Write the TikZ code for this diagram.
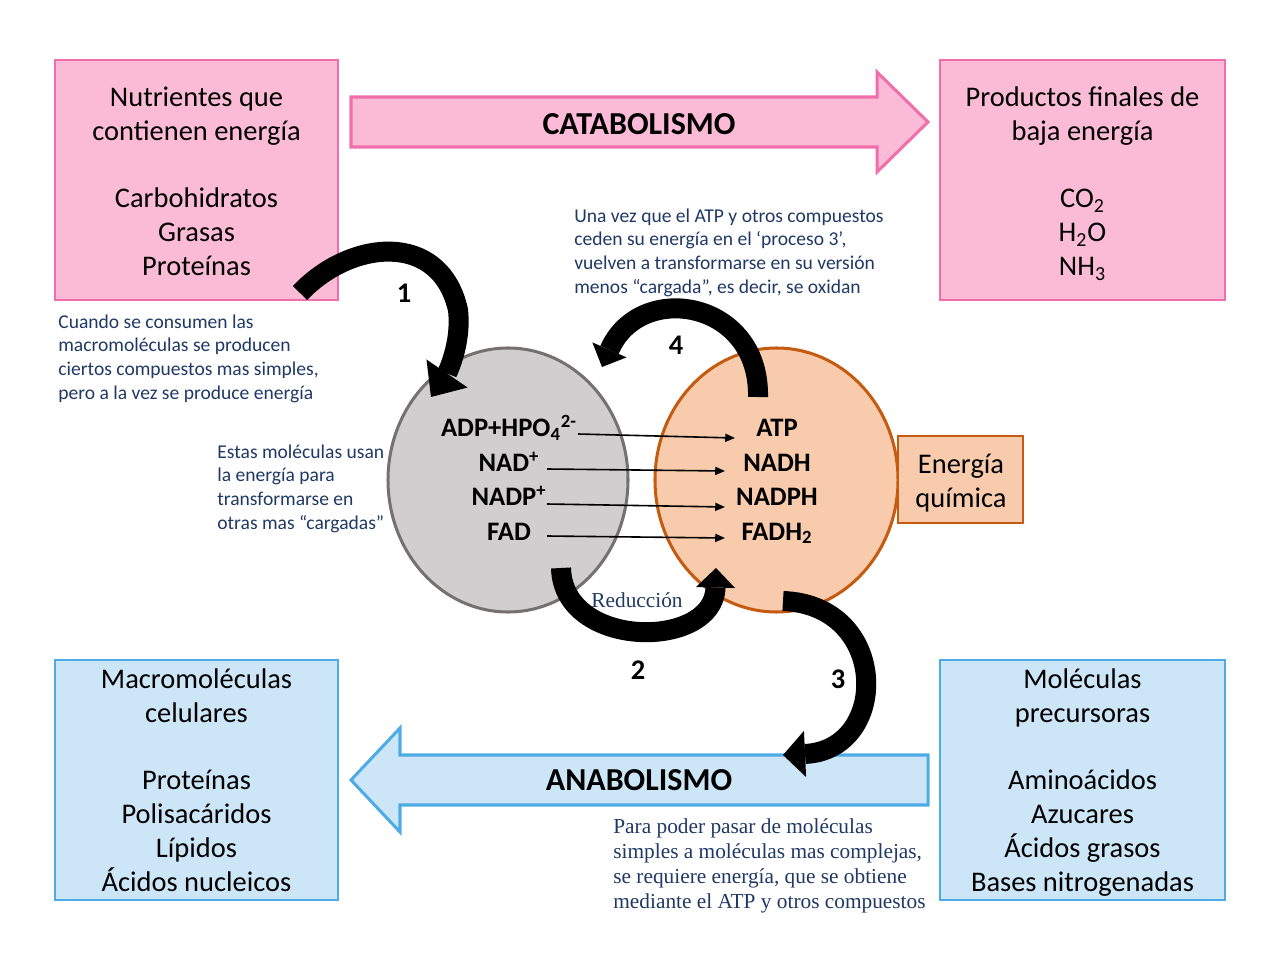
\documentclass[tikz,border=0pt]{standalone}
\usepackage{fontspec}
\setmainfont{Carlito}
\newfontfamily\serifnote{Liberation Serif}
\usetikzlibrary{arrows.meta,shapes.geometric}
\definecolor{pinkfill}{RGB}{251,187,214}
\definecolor{pinkline}{RGB}{240,110,170}
\definecolor{bluefill}{RGB}{204,230,248}
\definecolor{blueline}{RGB}{78,171,230}
\definecolor{grayfill}{RGB}{208,206,206}
\definecolor{grayline}{RGB}{118,113,113}
\definecolor{orfill}{RGB}{248,203,173}
\definecolor{orline}{RGB}{197,90,17}
\definecolor{navy}{RGB}{31,56,100}
\begin{document}
\begin{tikzpicture}[x=0.5625pt,y=-0.5625pt,
  pinkbox/.style={fill=pinkfill,draw=pinkline,line width=1.1pt,inner sep=0},
  bluebox/.style={fill=bluefill,draw=blueline,line width=1.1pt,inner sep=0},
  bigpink/.style={fill=pinkfill,draw=pinkline,line width=1.7pt},
  bigblue/.style={fill=bluefill,draw=blueline,line width=1.7pt},
  boxtext/.style={font=\fontsize{16}{19.1}\selectfont,align=center,inner sep=0,anchor=north},
  note/.style={font=\fontsize{11}{13.4}\selectfont,text=navy,align=left,inner sep=0,anchor=north west},
  serifnotestyle/.style={font=\serifnote\fontsize{12}{14.2}\selectfont,text=navy,align=left,inner sep=0,anchor=north west},
  mol/.style={font=\bfseries\fontsize{15}{18}\selectfont,inner sep=0,anchor=base},
  num/.style={font=\bfseries\fontsize{16}{19}\selectfont,inner sep=0},
  bigtitle/.style={font=\bfseries\fontsize{18}{21.6}\selectfont,inner sep=0},
  thinarrow/.style={line width=0.9pt,-{Triangle[length=5.5pt,width=4.5pt]}},
  curved/.style 2 args={line width=11.25pt,-{Triangle[length=#1,width=#2,line width=0pt]}},
]
\useasboundingbox (0,0) rectangle (1280,960);

% boxes
\node[pinkbox,minimum width=159.2pt,minimum height=135pt] (nutr) at (196.5,180) {};
\node[pinkbox,minimum width=160.3pt,minimum height=135pt] (prod) at (1082.5,180) {};
\node[bluebox,minimum width=159.2pt,minimum height=135pt] (macro) at (196.5,780) {};
\node[bluebox,minimum width=160.3pt,minimum height=135pt] (prec) at (1082.5,780) {};

% big arrows
\draw[bigpink] (351,97) -- (877,97) -- (877,72) -- (928,122) -- (877,172) -- (877,147) -- (351,147) -- cycle;
\draw[bigblue] (928,755) -- (400,755) -- (400,728) -- (351,780) -- (400,832) -- (400,805) -- (928,805) -- cycle;
\node[bigtitle] (cata) at (639,124) {CATABOLISMO};
\node[bigtitle] (ana) at (639,780) {ANABOLISMO};

% circles
\node[ellipse,fill=grayfill,draw=grayline,line width=1.7pt,minimum width=135pt,minimum height=148.5pt,inner sep=0] (grayc) at (508,480) {};
\node[ellipse,fill=orfill,draw=orline,line width=1.7pt,minimum width=136.7pt,minimum height=148.5pt,inner sep=0] (orc) at (776.5,480) {};
\node[fill=orfill,draw=orline,line width=1.1pt,minimum width=70.3pt,minimum height=48.9pt,inner sep=0] (energ) at (960.5,479.5) {};

% box texts
\node[boxtext] (nutrtxt) at (196.5,82) {\strut Nutrientes que\\contienen energía\\[19.1pt]Carbohidratos\\Grasas\\Proteínas};
\node[boxtext] (prodtxt) at (1082.5,82) {\strut Productos finales de\\baja energía\\[19.1pt]CO\textsubscript{2}\\H\textsubscript{2}O\\NH\textsubscript{3}};
\node[boxtext] (macrotxt) at (196.5,664) {\strut Macromoléculas\\celulares\\[19.1pt]Proteínas\\Polisacáridos\\Lípidos\\Ácidos nucleicos};
\node[boxtext] (prectxt) at (1082.5,664) {\strut Moléculas\\precursoras\\[19.1pt]Aminoácidos\\Azucares\\Ácidos grasos\\Bases nitrogenadas};
\node[boxtext] (energtxt) at (961,449) {\strut Energía\\química};

% notes
\node[note] (note1) at (58,311) {\strut Cuando se consumen las\\macromoléculas se producen\\ciertos compuestos mas simples,\\pero a la vez se produce energía};
\node[note] (note2) at (217,441) {\strut Estas moléculas usan\\la energía para\\transformarse en\\otras mas “cargadas”};
\node[note] (note3) at (574,205) {\strut Una vez que el ATP y otros compuestos\\ceden su energía en el ‘proceso 3’,\\vuelven a transformarse en su versión\\menos “cargada”, es decir, se oxidan};
\node[serifnotestyle] (note4) at (613,815) {\strut Para poder pasar de moléculas\\simples a moléculas mas complejas,\\se requiere energía, que se obtiene\\mediante el ATP y otros compuestos};
\node[font=\serifnote\fontsize{12}{14.2}\selectfont,text=navy,inner sep=0,anchor=base] (reduc) at (637,607) {Reducción};

% molecule labels
\node[mol] (adp) at (509,437) {ADP+HPO\textsubscript{4}\textsuperscript{2-}};
\node[mol] (nad) at (509,471.5) {NAD\textsuperscript{+}};
\node[mol] (nadp) at (509,505.5) {NADP\textsuperscript{+}};
\node[mol] (fad) at (509,540) {FAD};
\node[mol] (atp) at (777,437) {ATP};
\node[mol] (nadh) at (777,471.5) {NADH};
\node[mol] (nadph) at (777,505.5) {NADPH};
\node[mol] (fadh) at (777,540) {FADH\textsubscript{2}};

% thin arrows
\coordinate (t1s) at (578,434); \coordinate (t1e) at (735,438);
\coordinate (t2s) at (547,469); \coordinate (t2e) at (725,471);
\coordinate (t3s) at (547,504); \coordinate (t3e) at (725,507);
\coordinate (t4s) at (547,536); \coordinate (t4e) at (725,538);
\draw[thinarrow] (t1s) -- (t1e);
\draw[thinarrow] (t2s) -- (t2e);
\draw[thinarrow] (t3s) -- (t3e);
\draw[thinarrow] (t4s) -- (t4e);

% curved arrows
\coordinate (c1s) at (300,293); \coordinate (c1e) at (431,397);
\coordinate (c2s) at (561,568); \coordinate (c2e) at (716,568);
\coordinate (c3s) at (783,601); \coordinate (c3e) at (783,755);
\coordinate (c4s) at (758,397); \coordinate (c4e) at (602,367);
\draw[curved={16pt}{28pt}] (c1s) .. controls (350,240) and (440,230) .. (458,310) .. controls (462,345) and (446,375) .. (c1e);
\draw[curved={11pt}{22pt}] (c2s) .. controls (563,650) and (714,650) .. (c2e);
\draw[curved={12.4pt}{26pt}] (c3s) .. controls (890,605) and (890,750) .. (c3e);
\draw[curved={10.5pt}{21pt}] (c4s) .. controls (760,300) and (640,280) .. (c4e);

% numbers
\node[num] (n1) at (404,293) {1};
\node[num] (n2) at (638,670) {2};
\node[num] (n3) at (838,679) {3};
\node[num] (n4) at (676,345) {4};
\end{tikzpicture}
\end{document}
